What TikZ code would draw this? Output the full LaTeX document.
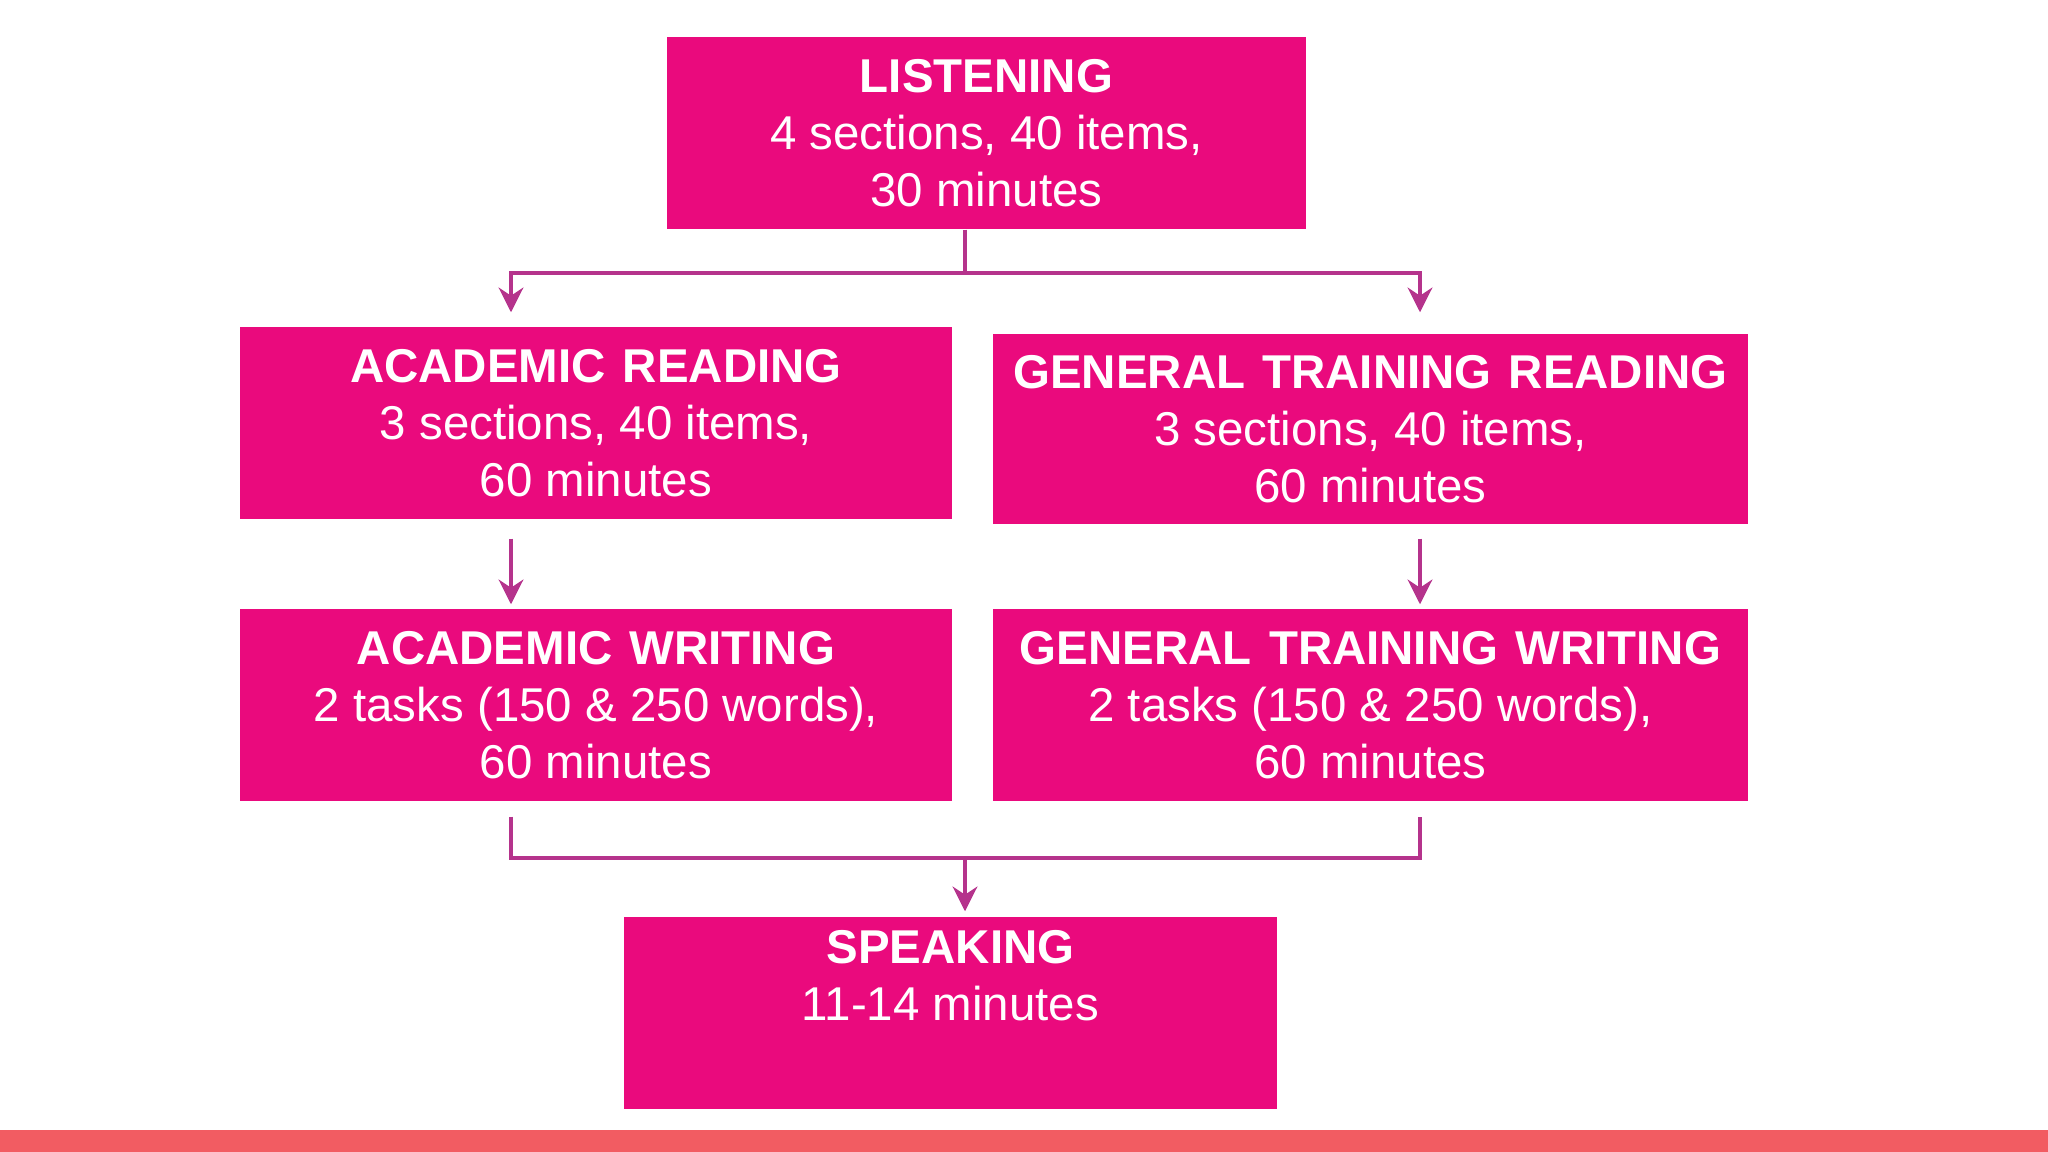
\documentclass[tikz,border=0pt]{standalone}
\usepackage{fontspec}
\setmainfont{Liberation Sans}
\usetikzlibrary{arrows.meta}
\definecolor{boxpink}{HTML}{EA0A7D}
\definecolor{linkpurple}{HTML}{B5338C}
\definecolor{barred}{HTML}{F25C62}
\newcommand{\wgap}{\hspace{0.36em}}
\tikzset{
  part/.style={fill=boxpink, text=white, align=center, inner sep=0pt,
    minimum height=1.92cm, font=\fontsize{13.5}{16.3}\selectfont},
  link/.style={draw=linkpurple, line width=1.4pt},
  tip/.style={link, -{Stealth[length=7pt,width=7pt]}}
}
\begin{document}
\begin{tikzpicture}
  \useasboundingbox (0,0) rectangle (20.48,11.52);
  \fill[barred] (0,0) rectangle (20.48,0.22);
  % boxes
  \node[part, minimum width=6.39cm] (listen) at (9.865,10.19)
    {\textbf{LISTENING}\\4 sections, 40 items,\\30 minutes};
  \node[part, minimum width=7.12cm] (acread) at (5.96,7.29)
    {\textbf{ACADEMIC\wgap READING}\\3 sections, 40 items,\\60 minutes};
  \node[part, minimum width=7.55cm, minimum height=1.90cm] (gtread) at (13.705,7.23)
    {\textbf{GENERAL\wgap TRAINING\wgap READING}\\3 sections, 40 items,\\60 minutes};
  \node[part, minimum width=7.12cm] (acwrite) at (5.96,4.47)
    {\textbf{ACADEMIC\wgap WRITING}\\2 tasks (150 \& 250 words),\\60 minutes};
  \node[part, minimum width=7.55cm] (gtwrite) at (13.705,4.47)
    {\textbf{GENERAL\wgap TRAINING\wgap WRITING}\\2 tasks (150 \& 250 words),\\60 minutes};
  \node[part, minimum width=6.53cm] (speak) at (9.505,1.39)
    {\textbf{SPEAKING}\\11-14 minutes\\\strut};
  % junctions
  \coordinate (split) at (9.65,8.79);
  \coordinate (merge) at (9.65,2.94);
  \coordinate (lbranch) at (5.11,8.79);
  \coordinate (rbranch) at (14.20,8.79);
  % connectors
  \draw[link] (listen.south -| split) -- (split);
  \draw[tip] (split) -| ([yshift=1.4mm]acread.north -| lbranch);
  \draw[tip] (split) -| ([yshift=2.1mm]gtread.north -| rbranch);
  \draw[tip] ([yshift=-1.9mm]acread.south -| lbranch) -- ([yshift=0.4mm]acwrite.north -| lbranch);
  \draw[tip] ([yshift=-1.4mm]gtread.south -| rbranch) -- ([yshift=0.4mm]gtwrite.north -| rbranch);
  \draw[link] ([yshift=-1.5mm]acwrite.south -| lbranch) |- (merge)
    -| ([yshift=-1.5mm]gtwrite.south -| rbranch);
  \draw[tip] (merge) -- ([yshift=0.5mm]speak.north -| merge);
\end{tikzpicture}
\end{document}
